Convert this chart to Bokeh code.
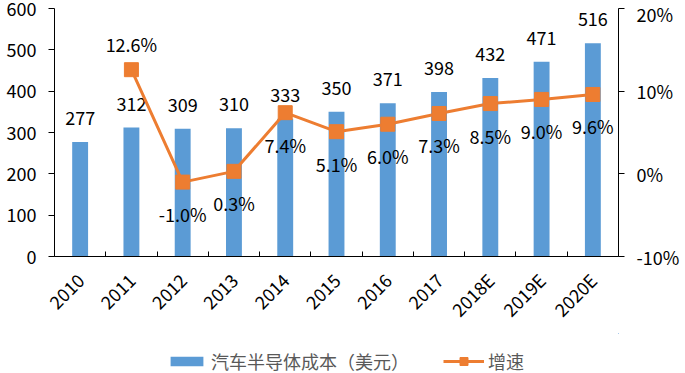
import math
from bokeh.plotting import figure
from bokeh.layouts import column
from bokeh.models import (Range1d, LinearAxis, FixedTicker, ColumnDataSource,
                          Legend, LegendItem)
from bokeh.core.properties import value
from bokeh.embed import file_html
from bokeh.resources import INLINE

categories = ["2010", "2011", "2012", "2013", "2014", "2015", "2016", "2017",
              "2018E", "2019E", "2020E"]
cost = [277, 312, 309, 310, 333, 350, 371, 398, 432, 471, 516]
growth = [None, 12.6, -1.0, 0.3, 7.4, 5.1, 6.0, 7.3, 8.5, 9.0, 9.6]
cost_ticks = [0, 100, 200, 300, 400, 500, 600]
pct_ticks = [-10, 0, 10, 20]
series_names = ["汽车半导体成本（美元）", "增速"]

FONT = "Noto Sans CJK SC"
BLUE = "#5B9BD5"
ORANGE = "#ED7D31"

W = 685
H1, H2 = 333, 40
p = figure(width=W, height=H1, output_backend="svg", toolbar_location=None,
           x_range=Range1d(-0.5, len(categories) - 0.5),
           y_range=Range1d(cost_ticks[0], cost_ticks[-1]),
           min_border_left=54, min_border_right=67, min_border_top=8,
           min_border_bottom=76, outline_line_color=None)
p.extra_y_ranges = {"pct": Range1d(pct_ticks[0], pct_ticks[-1])}
p.xgrid.visible = False
p.ygrid.visible = False

xs = list(range(len(categories)))
bar_src = ColumnDataSource(dict(x=xs, cost=cost, lab=[str(v) for v in cost]))
p.vbar(x="x", top="cost", width=0.31, source=bar_src, fill_color=BLUE,
       line_color=None)
p.text(x="x", y="cost", text="lab", source=bar_src, text_align="center",
       text_baseline="middle", y_offset=-24, text_font=value(FONT),
       text_font_size="18px", text_color="#000000")

gx = [i for i, g in zip(xs, growth) if g is not None]
gy = [g for g in growth if g is not None]
goff = [-26 if i == 0 else 32 for i in range(len(gy))]
g_src = ColumnDataSource(dict(x=gx, g=gy, lab=["%.1f%%" % v for v in gy], off=goff))
p.line(x="x", y="g", source=g_src, line_color=ORANGE, line_width=3,
       y_range_name="pct")
p.scatter(x="x", y="g", source=g_src, marker="square", size=14,
          fill_color=ORANGE, line_color=ORANGE, y_range_name="pct")
p.text(x="x", y="g", text="lab", source=g_src, text_align="center",
       text_baseline="middle", y_offset="off", text_font=value(FONT),
       text_font_size="18px", text_color="#000000", y_range_name="pct")

# axes styling
xa = p.xaxis[0]
xa.ticker = FixedTicker(ticks=xs, minor_ticks=[i - 0.5 for i in range(len(categories) + 1)])
xa.major_label_overrides = {i: c for i, c in enumerate(categories)}
xa.major_tick_line_color = None
xa.minor_tick_in = 5
xa.minor_tick_out = 0
xa.minor_tick_line_color = "#000000"
xa.axis_line_color = "#000000"
xa.major_label_orientation = math.pi / 4
xa.major_label_text_font = FONT
xa.major_label_text_font_size = "18px"
xa.major_label_text_color = "#000000"
xa.major_label_standoff = 14

ya = p.yaxis[0]
ya.ticker = FixedTicker(ticks=cost_ticks)
ya.minor_tick_line_color = None
ya.major_tick_in = 0
ya.major_tick_out = 6
ya.axis_line_color = "#000000"
ya.major_tick_line_color = "#000000"
ya.major_label_text_font = FONT
ya.major_label_text_font_size = "18px"
ya.major_label_text_color = "#000000"
ya.major_label_standoff = 12

ra = LinearAxis(y_range_name="pct", ticker=FixedTicker(ticks=pct_ticks))
ra.major_label_overrides = {t: "%d%%" % t for t in pct_ticks}
ra.minor_tick_line_color = None
ra.major_tick_in = 0
ra.major_tick_out = 6
ra.axis_line_color = "#000000"
ra.major_tick_line_color = "#000000"
ra.major_label_text_font = FONT
ra.major_label_text_font_size = "18px"
ra.major_label_text_color = "#000000"
ra.major_label_standoff = 12
p.add_layout(ra, "right")

# legend strip: a second figure whose ranges keep its copies of the series
# out of view, so only the legend swatches show
p2 = figure(width=W, height=H2, output_backend="svg", toolbar_location=None,
            x_range=Range1d(-50, -49), y_range=Range1d(-5000, -4999),
            x_axis_type=None, y_axis_type=None, min_border=0,
            outline_line_color=None)
p2.xgrid.visible = False
p2.ygrid.visible = False
lb = p2.vbar(x="x", top="cost", width=0.31, source=bar_src, fill_color=BLUE,
             line_color=None)
ll = p2.line(x="x", y="g", source=g_src, line_color=ORANGE, line_width=3)
lm = p2.scatter(x="x", y="g", source=g_src, marker="square", size=14,
                fill_color=ORANGE, line_color=ORANGE)

leg_common = dict(orientation="horizontal", padding=0, margin=0, spacing=0,
                  border_line_color=None, background_fill_alpha=0,
                  label_text_font=FONT, label_text_font_size="18px",
                  label_text_color="#595959", label_standoff=4,
                  glyph_width=41, label_height=20)
leg1 = Legend(items=[LegendItem(label=series_names[0], renderers=[lb])],
              location=(112, -1), glyph_height=12, **leg_common)
leg2 = Legend(items=[LegendItem(label=series_names[1], renderers=[ll, lm])],
              location=(389, -1), glyph_height=20, **leg_common)
p2.add_layout(leg1, "center")
p2.add_layout(leg2, "center")

open("out.html", "w").write(file_html(column(p, p2, spacing=0), INLINE))
